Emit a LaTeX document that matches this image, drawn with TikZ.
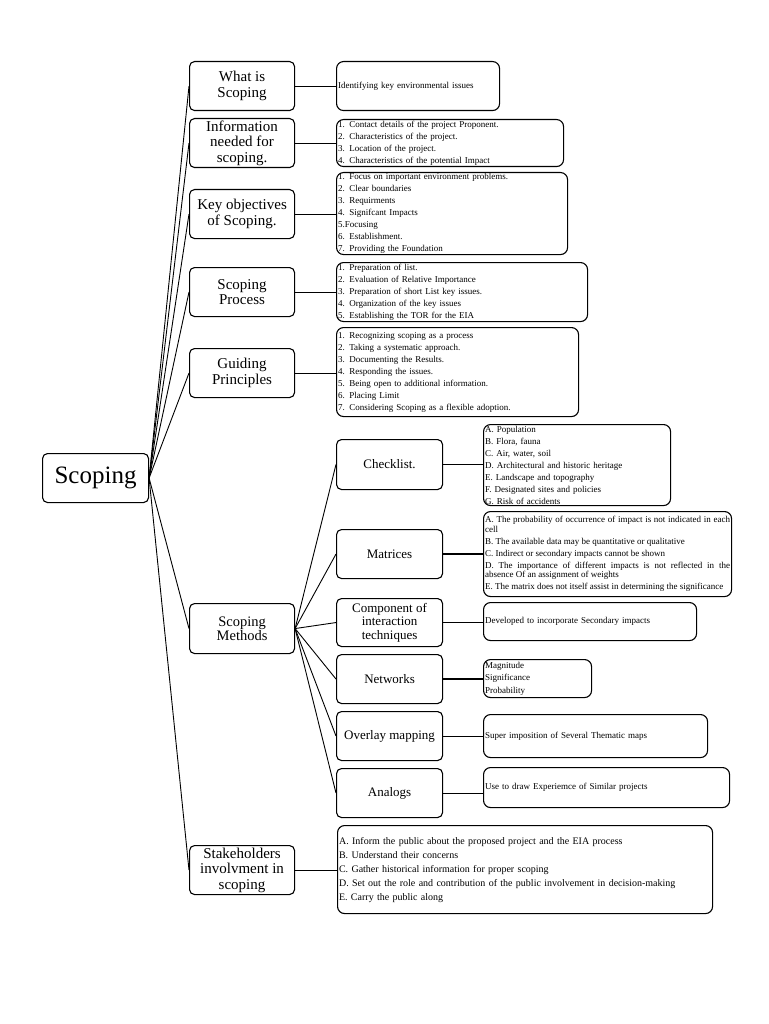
\documentclass[tikz,border=0pt]{standalone}
\usepackage{fontspec}
\setmainfont{Liberation Serif}
\begin{document}
\begin{tikzpicture}[x=1pt,y=-1pt,
  box/.style={draw, rounded corners=5pt, line width=1.1pt, anchor=north west, inner sep=0pt, align=center},
  lvl/.style={box, minimum width=105pt, minimum height=49pt, font=\fontsize{15}{15.5}\selectfont},
  sub/.style={box, minimum width=106pt, minimum height=49pt, font=\fontsize{13}{13.5}\selectfont},
  lst/.style={draw, rounded corners=7pt, line width=1.1pt, anchor=north west, inner xsep=1.5pt, inner ysep=0pt, align=left, font=\fontsize{9}{12}\selectfont},
  conn/.style={line width=0.9pt},
  bconn/.style={line width=1.6pt}
]
\useasboundingbox (0,0) rectangle (768,1024);

% root
\node[box, minimum width=106pt, minimum height=49pt, font=\fontsize{25}{26}\selectfont] (root) at (42,453) {Scoping};

% level 1
\node[lvl] (what)  at (189,61)  {What is\\Scoping};
\node[lvl] (info)  at (189,118) {Information\\needed for\\scoping.};
\node[lvl] (key)   at (189,189) {Key objectives\\of Scoping.};
\node[lvl] (proc)  at (189,267) {Scoping\\Process};
\node[lvl] (guide) at (189,348) {Guiding\\Principles};
\node[lvl, minimum height=50pt, font=\fontsize{14.5}{13.5}\selectfont] (meth) at (189,603) {Scoping\\Methods};
\node[lvl] (stake) at (189,845) {Stakeholders\\involvment in\\scoping};

% level 1 lists
\node[lst, text width=160pt, minimum height=49pt] (whatL) at (336,61) {Identifying key environmental issues};
\node[lst, text width=224pt, minimum height=47pt] (infoL) at (336,119) {1. Contact details of the project Proponent.\\2. Characteristics of the project.\\3. Location of the project.\\4. Characteristics of the potential Impact};
\node[lst, text width=228pt, minimum height=82pt] (keyL) at (336,172) {1. Focus on important environment problems.\\2. Clear boundaries\\3. Requirments\\4. Signifcant Impacts\\5.Focusing\\6. Establishment.\\7. Providing the Foundation};
\node[lst, text width=248pt, minimum height=59pt] (procL) at (336,262) {1. Preparation of list.\\2. Evaluation of Relative Importance\\3. Preparation of short List key issues.\\4. Organization of the key issues\\5. Establishing the TOR for the EIA};
\node[lst, text width=239pt, minimum height=89pt] (guideL) at (336,327) {1. Recognizing scoping as a process\\2. Taking a systematic approach.\\3. Documenting the Results.\\4. Responding the issues.\\5. Being open to additional information.\\6. Placing Limit\\7. Considering Scoping as a flexible adoption.};
\node[lst, text width=372pt, minimum height=88pt, font=\fontsize{10}{14}\selectfont] (stakeL) at (337,825) {A. Inform the public about the proposed project and the EIA process\\B. Understand their concerns\\C. Gather historical information for proper scoping\\D. Set out the role and contribution of the public involvement in decision-making\\E. Carry the public along};

% level 2 (methods)
\node[sub, minimum height=50pt] (check) at (336,439) {Checklist.};
\node[sub] (matr)  at (336,529) {Matrices};
\node[sub, minimum height=48pt] (comp)  at (336,598) {Component of\\interaction\\techniques};
\node[sub] (net)   at (336,654) {Networks};
\node[sub] (over)  at (336,711) {Overlay mapping};
\node[sub] (ana)   at (336,768) {Analogs};

% level 2 lists
\node[lst, text width=184pt, minimum height=81pt] (checkL) at (483,424) {A. Population\\B. Flora, fauna\\C. Air, water, soil\\D. Architectural and historic heritage\\E. Landscape and topography\\F. Designated sites and policies\\G. Risk of accidents};
\node[lst, text width=245pt, minimum height=85pt, align=justify, font=\fontsize{9}{9.5}\selectfont] (matrL) at (483,511) {A. The probability of occurrence of impact is not indicated in each\linebreak cell\\[2.5pt]B. The available data may be quantitative or qualitative\\[2.5pt]C. Indirect or secondary impacts cannot be shown\\[2.5pt]D. The importance of different impacts is not reflected in the\linebreak absence Of an assignment of weights\\[2.5pt]E. The matrix does not itself assist in determining the significance};
\node[lst, text width=210pt, minimum height=38pt] (compL) at (483,602) {Developed to incorporate Secondary impacts};
\node[lst, text width=105pt, minimum height=38pt, font=\fontsize{9}{12.5}\selectfont] (netL) at (483,659) {Magnitude\\Significance\\Probability};
\node[lst, text width=221pt, minimum height=43pt] (overL) at (483,714) {Super imposition of Several Thematic maps};
\node[lst, text width=243pt, minimum height=40pt] (anaL) at (483,767) {Use to draw Experiemce of Similar projects};

% connectors root -> level 1
\foreach \n in {what,info,key,proc,guide,meth,stake}
  \draw[conn] (root.east) -- (\n.west);

% level 1 -> lists
\draw[conn] (what.east)  -- (what.east -| whatL.west);
\draw[conn] (info.east)  -- (info.east -| infoL.west);
\draw[conn] (key.east)   -- (key.east -| keyL.west);
\draw[conn] (proc.east)  -- (proc.east -| procL.west);
\draw[conn] (guide.east) -- (guide.east -| guideL.west);
\draw[conn] (stake.east) -- (stake.east -| stakeL.west);

% methods -> level 2
\foreach \n in {check,matr,comp,net,over,ana}
  \draw[conn] (meth.east) -- (\n.west);

% level 2 -> lists
\draw[conn]  (check.east) -- (check.east -| checkL.west);
\draw[bconn] (matr.east)  -- (matr.east -| matrL.west);
\draw[conn]  (comp.east)  -- (comp.east -| compL.west);
\draw[bconn] (net.east)   -- (net.east -| netL.west);
\draw[conn]  (over.east)  -- (over.east -| overL.west);
\draw[conn]  (ana.east)   -- (ana.east -| anaL.west);
\end{tikzpicture}
\end{document}
